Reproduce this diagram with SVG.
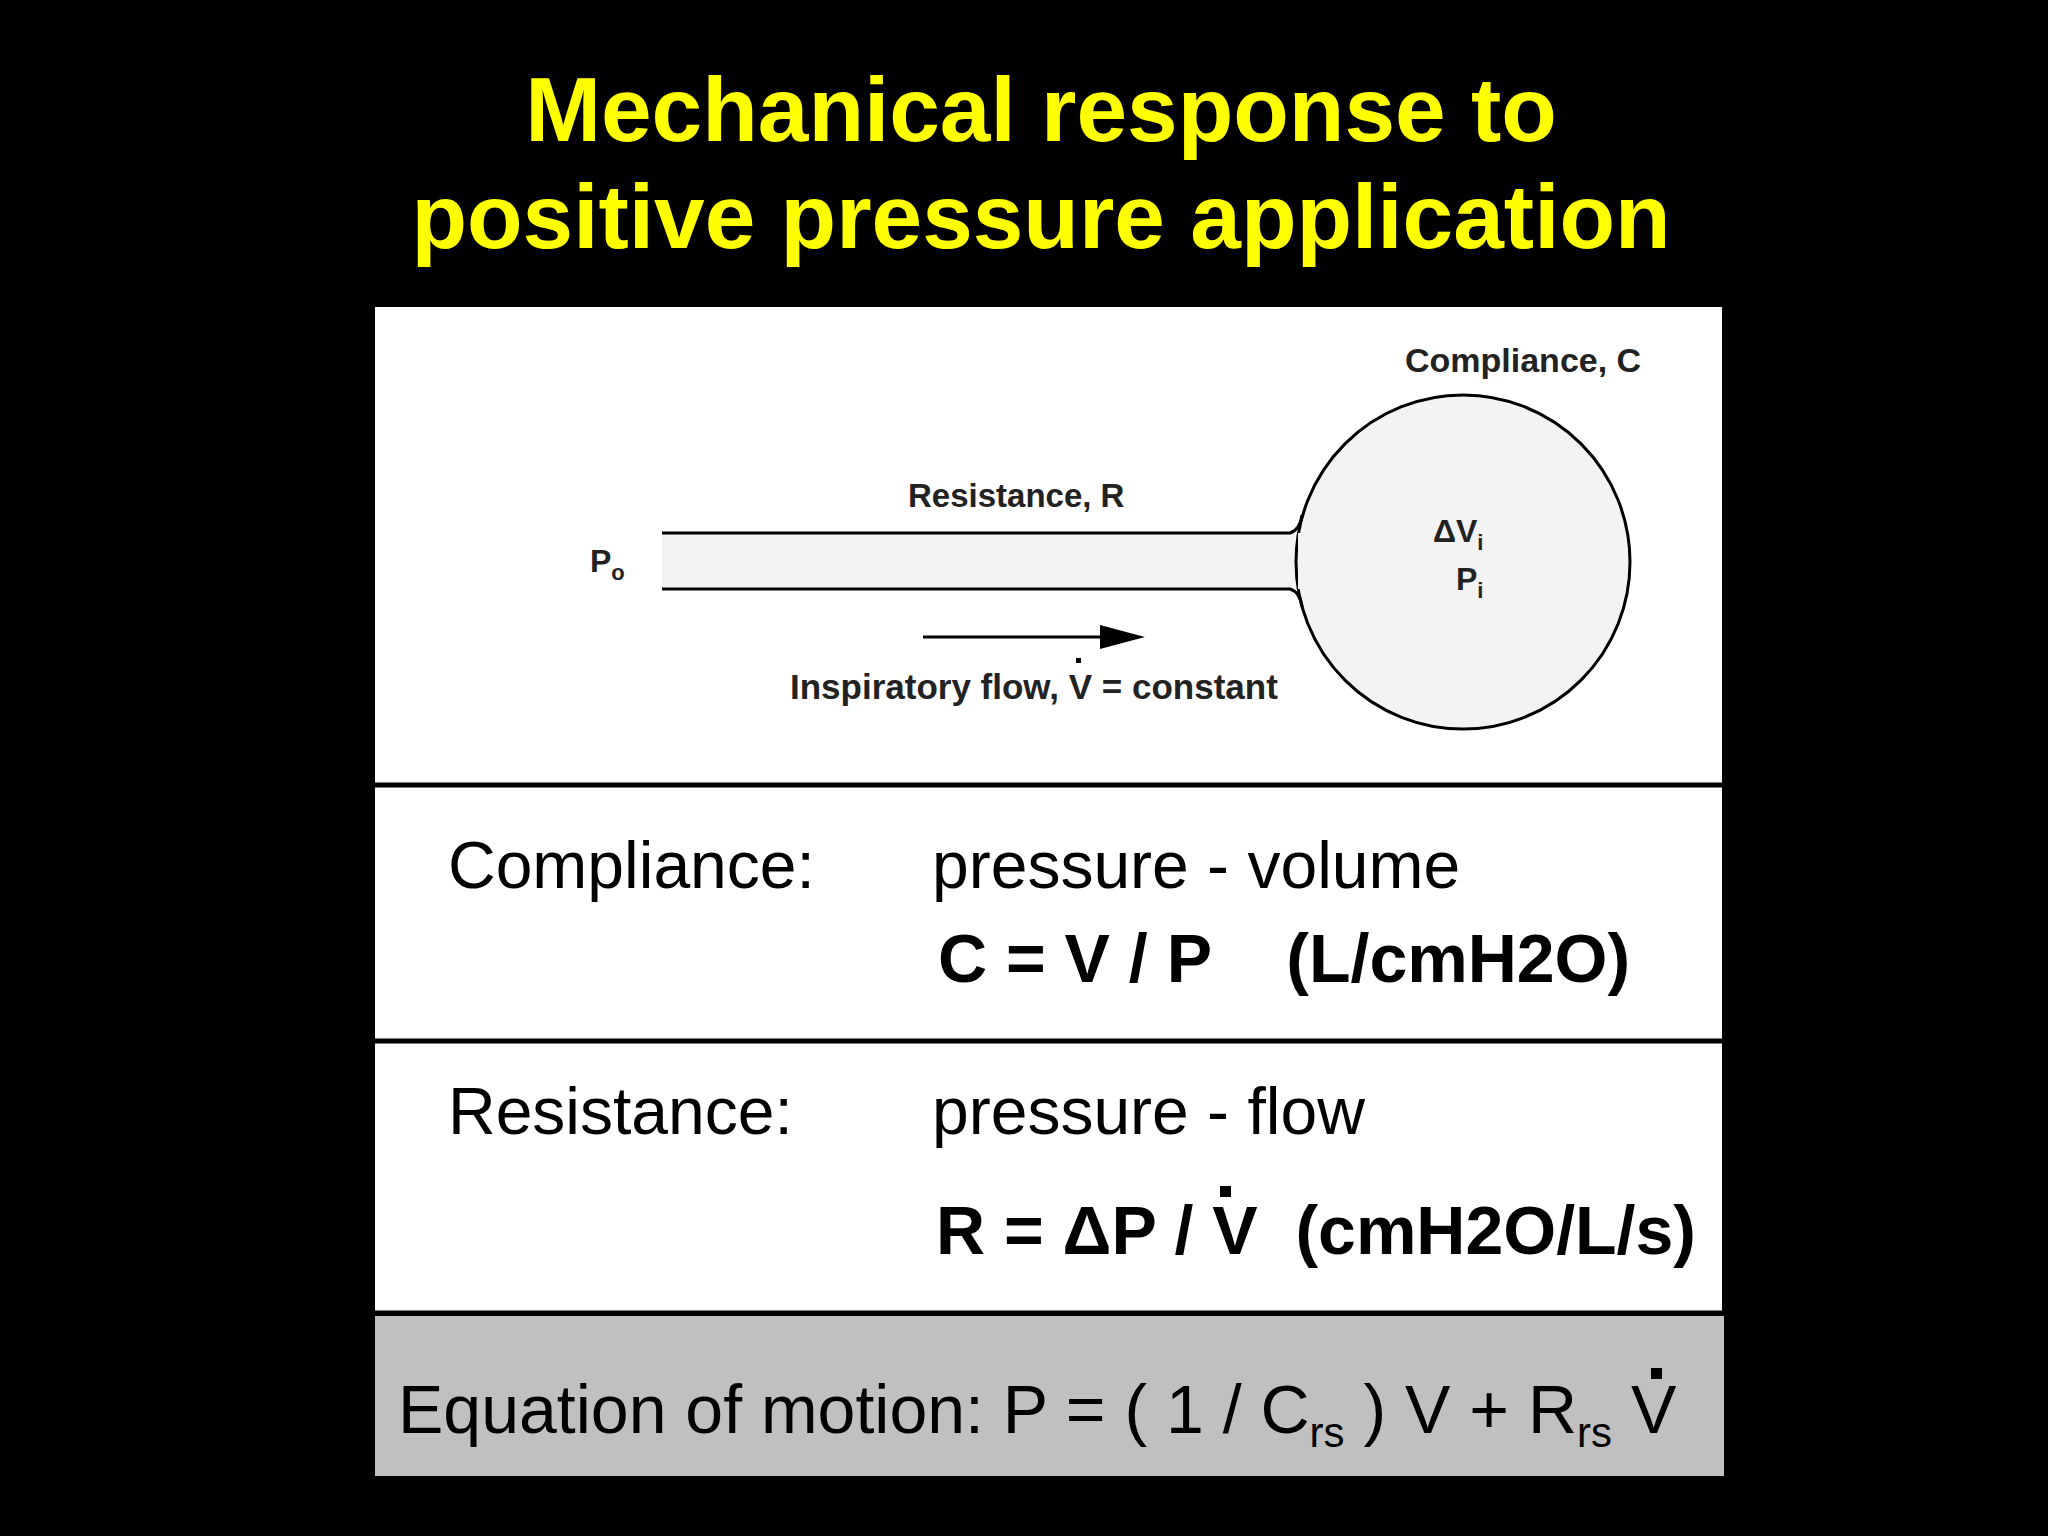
<svg xmlns="http://www.w3.org/2000/svg" width="2048" height="1536" viewBox="0 0 2048 1536">
<style>
.t{font-family:"Liberation Sans",Arial,sans-serif;fill:#000}
.s{font-size:32px;font-weight:bold;fill:#222}
.r{font-size:66px}
.b{font-size:68px;font-weight:bold}
.ln{stroke:#000;stroke-width:3;fill:none}
</style>
<rect width="2048" height="1536" fill="#000"/>
<g id="title" font-family="Liberation Sans,Arial,sans-serif" font-weight="bold" font-size="91" fill="#ffff00" text-anchor="middle">
<text x="1041" y="141">Mechanical response to</text>
<text x="1041" y="248">positive pressure application</text>
</g>
<rect x="375" y="307" width="1347" height="1006" fill="#fff"/>
<g id="model">
<rect x="662" y="533" width="640" height="56" fill="#f3f3f3"/>
<circle cx="1463" cy="562" r="167" fill="#f3f3f3" stroke="#000" stroke-width="3"/>
<path class="ln" d="M662 533 H1290 Q1300 530 1302 515"/>
<path class="ln" d="M662 589 H1290 Q1300 592 1302 607"/>
<rect x="1298" y="533" width="10" height="56" fill="#f3f3f3"/>
<text class="t s" x="1405" y="372" style="font-size:34px">Compliance, C</text>
<text class="t s" x="908" y="507" style="font-size:33px">Resistance, R</text>
<text class="t s" x="590" y="572">P<tspan style="font-size:22px" dy="8">o</tspan></text>
<text class="t s" x="1433" y="542">ΔV<tspan style="font-size:22px" dy="8">i</tspan></text>
<text class="t s" x="1456" y="590">P<tspan style="font-size:22px" dy="8">i</tspan></text>
<line class="ln" x1="923" y1="637" x2="1120" y2="637" stroke-width="4"/>
<path d="M1100 625 L1145 637 L1100 649 Z" fill="#000"/>
<text class="t s" x="790" y="699" style="font-size:35px">Inspiratory flow, V = constant</text>
<rect x="1076" y="658" width="5" height="5" fill="#000"/>
</g>
<g id="dividers" stroke="#000" stroke-width="5">
<line x1="375" y1="785" x2="1722" y2="785"/>
<line x1="375" y1="1041" x2="1722" y2="1041"/>
<line x1="375" y1="1313" x2="1722" y2="1313"/>
</g>
<g id="compliance">
<text class="t r" x="448" y="888">Compliance:</text>
<text class="t r" x="932" y="888">pressure - volume</text>
<text class="t b" x="938" y="982" xml:space="preserve">C = V / P    (L/cmH2O)</text>
</g>
<g id="resistance">
<text class="t r" x="448" y="1134">Resistance:</text>
<text class="t r" x="932" y="1134">pressure - flow</text>
<text class="t b" x="936" y="1254" xml:space="preserve">R = ΔP / V  (cmH2O/L/s)</text>
<rect x="1220" y="1186" width="11" height="11" fill="#000"/>
</g>
<g id="equation">
<rect x="375" y="1316" width="1349" height="160" fill="#c0c0c0"/>
<text class="t" font-size="68" x="398" y="1433">Equation of motion: P = ( 1 / C<tspan font-size="42" dy="14">rs</tspan><tspan dy="-14"> ) V + R</tspan><tspan font-size="42" dy="14">rs</tspan><tspan dy="-14"> V</tspan></text>
<rect x="1651" y="1368" width="11" height="11" fill="#000"/>
</g>
</svg>
